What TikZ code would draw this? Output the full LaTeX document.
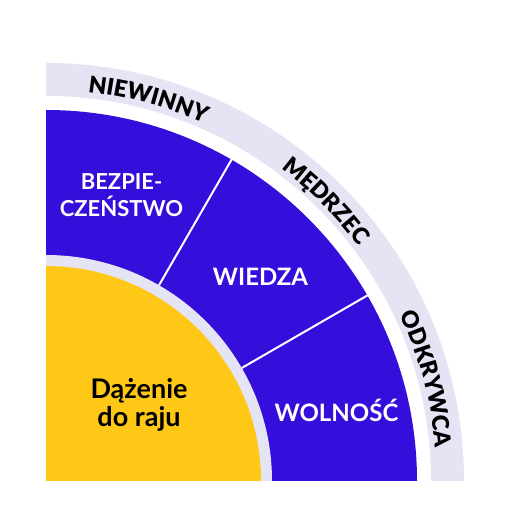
\documentclass[tikz,border=0pt]{standalone}
\usepackage{fontspec}
\setmainfont{Lato}
\newfontfamily\rimfont{Lato Black}
\usetikzlibrary{decorations.text}
\definecolor{ringblue}{RGB}{54,14,220}
\definecolor{coreyellow}{RGB}{255,200,22}
\definecolor{ringgrey}{RGB}{229,228,245}
\begin{document}
\begin{tikzpicture}[x=1pt,y=1pt,
    divider/.style={draw=white, line width=2pt},
    inlabel/.style={text=white, font=\bfseries\fontsize{#1}{27}\selectfont, align=center},
    inlabel/.default=24,
    corelabel/.style={text=black, font=\bfseries\fontsize{27}{27.5}\selectfont, align=center},
    rimlabel/.style={decorate, decoration={text along path, text align=center,
        text={|\rimfont\fontsize{23}{23}\selectfont|#1}}}]
    \useasboundingbox (0,0) rectangle (530,530);
    \coordinate (o) at (46,49);
    % quarter rings, from outside in
    \fill[ringgrey] (o) -- ++(0:418) arc[start angle=0, end angle=90, radius=418] -- cycle;
    \fill[white] (o) -- ++(0:385) arc[start angle=0, end angle=90, radius=385] -- cycle;
    \fill[ringblue] (o) -- ++(0:371) arc[start angle=0, end angle=90, radius=371] -- cycle;
    \fill[ringgrey] (o) -- ++(0:226) arc[start angle=0, end angle=90, radius=226] -- cycle;
    \fill[coreyellow] (o) -- ++(0:215) arc[start angle=0, end angle=90, radius=215] -- cycle;
    % dividers
    \path (o) ++(60:226) coordinate (d1in) ++(60:159) coordinate (d1out);
    \path (o) ++(30:226) coordinate (d2in) ++(30:159) coordinate (d2out);
    \draw[divider] (d1in) -- (d1out);
    \draw[divider] (d2in) -- (d2out);
    % labels
    \node[corelabel] (core) at (139,125) {Dążenie\\do raju};
    \node[inlabel=22] (safety) at (121.5,335) {BEZPIE-\\CZEŃSTWO};
    \node[inlabel] (knowledge) at (260.5,253) {WIEDZA};
    \node[inlabel] (freedom) at (336.5,120) {WOLNOŚĆ};
    \path[rimlabel=NIEWINNY] (o) ++(90:391) arc[start angle=90, end angle=60, radius=391];
    \path[rimlabel=MĘDRZEC] (o) ++(60:391) arc[start angle=60, end angle=30, radius=391];
    \path[rimlabel=ODKRYWCA] (o) ++(30:391) arc[start angle=30, end angle=0, radius=391];
\end{tikzpicture}
\end{document}
